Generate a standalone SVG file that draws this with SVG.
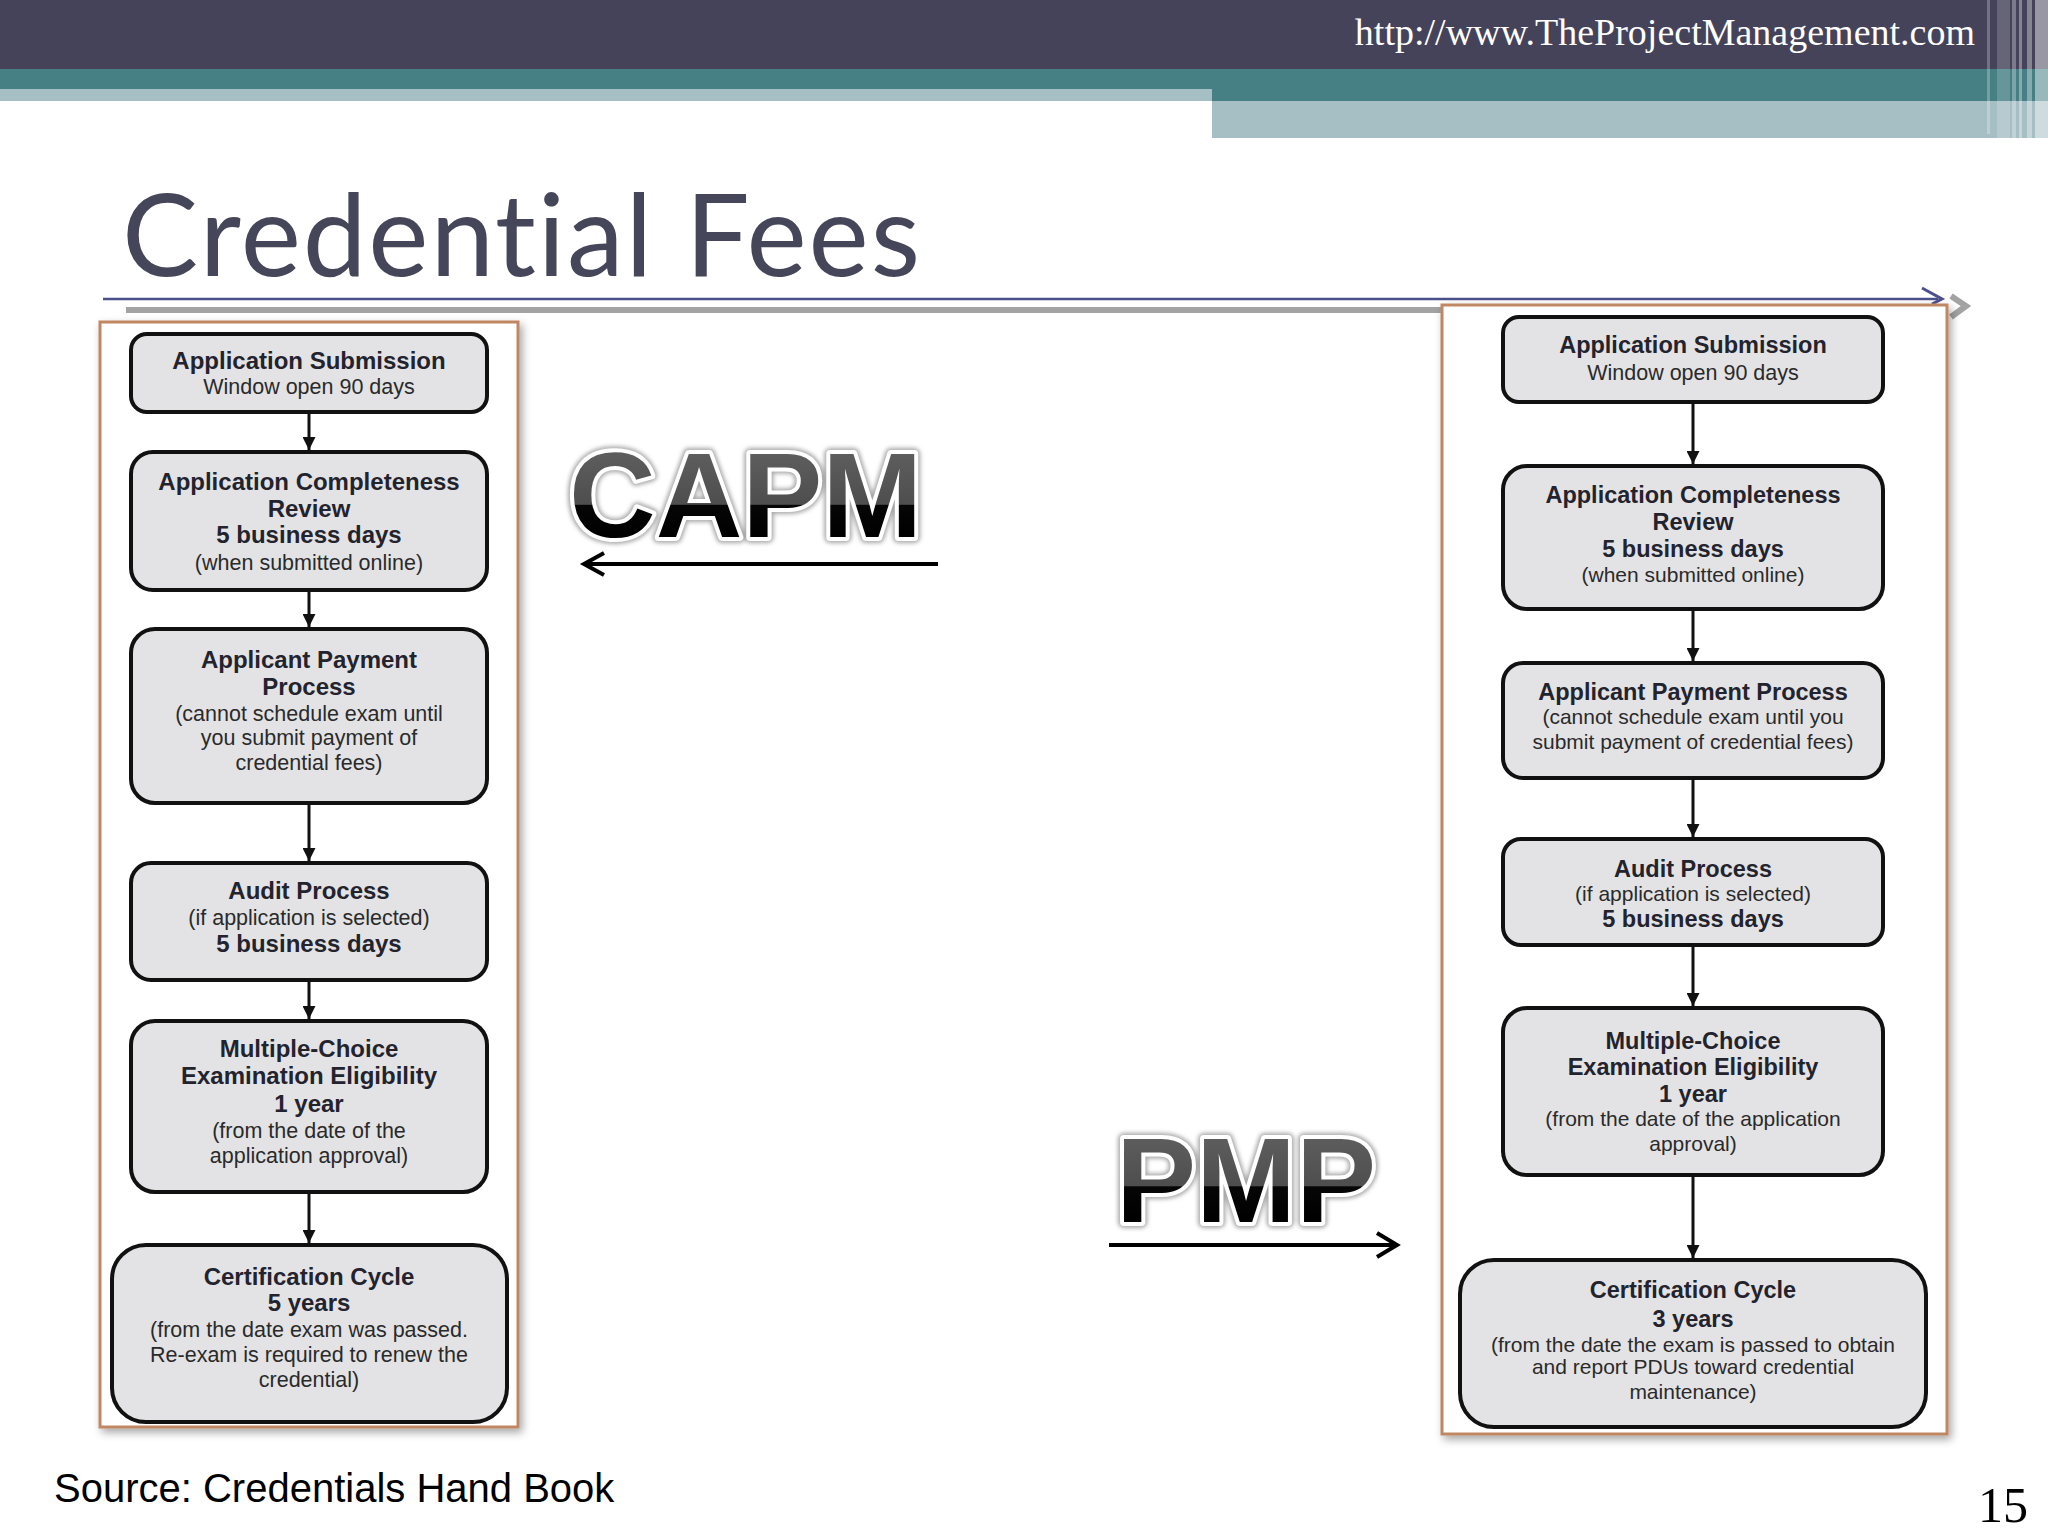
<svg xmlns="http://www.w3.org/2000/svg" width="2048" height="1536" viewBox="0 0 2048 1536">
<defs>
<style>
.b{font-family:"Liberation Sans",Arial,sans-serif;font-weight:bold;font-size:24px;fill:#23232e;text-anchor:middle}
.r{font-family:"Liberation Sans",Arial,sans-serif;font-size:21.5px;fill:#2a2a2a;text-anchor:middle}
.b2{font-family:"Liberation Sans",Arial,sans-serif;font-weight:bold;font-size:23.5px;fill:#23232e;text-anchor:middle}
.r2{font-family:"Liberation Sans",Arial,sans-serif;font-size:21px;fill:#2a2a2a;text-anchor:middle}
.box{fill:#e3e3e5;stroke:#111;stroke-width:4}
.frame{fill:#fff;stroke:#c08763;stroke-width:3}
.conn{stroke:#111;stroke-width:3;fill:none}
.big{font-family:"Liberation Sans",Arial,sans-serif;font-weight:bold;font-size:120px}
.halo{fill:#8a8a8a;stroke:#a8a8a8;stroke-width:12;stroke-linejoin:round}
.glyph{stroke:#fff;stroke-width:8;stroke-linejoin:round;paint-order:stroke}
.arr{stroke:#000;stroke-width:4;fill:none}
</style>
<marker id="ah" viewBox="0 0 12 12" refX="12" refY="6" markerWidth="13" markerHeight="13" markerUnits="userSpaceOnUse" orient="auto">
<path d="M0,0 L12,6 L0,12 z" fill="#111"/>
</marker>
<filter id="shadow" x="-10%" y="-10%" width="120%" height="120%">
<feDropShadow dx="3" dy="4" stdDeviation="4" flood-color="#000" flood-opacity="0.35"/>
</filter>
<filter id="blur" x="-10%" y="-20%" width="120%" height="140%">
<feGaussianBlur stdDeviation="2"/>
</filter>
<linearGradient id="gCapm" gradientUnits="userSpaceOnUse" x1="0" y1="451" x2="0" y2="537">
<stop offset="0" stop-color="#5e5e5e"/>
<stop offset="0.62" stop-color="#4e4e4e"/>
<stop offset="0.63" stop-color="#060606"/>
<stop offset="1" stop-color="#000"/>
</linearGradient>
<linearGradient id="gPmp" gradientUnits="userSpaceOnUse" x1="0" y1="1136" x2="0" y2="1222">
<stop offset="0" stop-color="#5e5e5e"/>
<stop offset="0.58" stop-color="#4e4e4e"/>
<stop offset="0.59" stop-color="#060606"/>
<stop offset="1" stop-color="#000"/>
</linearGradient>
</defs>

<rect width="2048" height="1536" fill="#fff"/>

<g id="header">
<rect x="0" y="0" width="2048" height="69" fill="#45435a"/>
<rect x="0" y="69" width="2048" height="20" fill="#467f84"/>
<rect x="0" y="89" width="1212" height="12" fill="#a6bfc5"/>
<rect x="1212" y="89" width="836" height="12" fill="#467f84"/>
<rect x="1212" y="101" width="836" height="37" fill="#a6bfc5"/>
<rect x="1987" y="0" width="3" height="134" fill="#fff" opacity="0.25"/>
<rect x="1997" y="0" width="13" height="138" fill="#fff" opacity="0.18"/>
<rect x="2012" y="0" width="4" height="138" fill="#fff" opacity="0.3"/>
<rect x="2019" y="0" width="3" height="138" fill="#fff" opacity="0.35"/>
<rect x="2027" y="0" width="5" height="138" fill="#fff" opacity="0.35"/>
<rect x="2035" y="0" width="13" height="138" fill="#fff" opacity="0.45"/>
<text x="1975" y="45" font-family="Liberation Serif,Times New Roman,serif" font-size="38" fill="#fff" text-anchor="end">http://www.TheProjectManagement.com</text>
</g>

<g id="title">
<text x="122" y="276" font-family="Lato,Open Sans,sans-serif" font-size="114" fill="#46465a" style="font-variant-ligatures:none;font-feature-settings:'liga' 0,'clig' 0" textLength="798" lengthAdjust="spacing">Credential Fees</text>
<line x1="103" y1="299" x2="1938" y2="299" stroke="#4b4f8a" stroke-width="2.5"/>
<polyline points="1922,288 1942,299 1932,304" fill="none" stroke="#4b4f8a" stroke-width="3"/>
<rect x="126" y="307" width="1820" height="6" fill="#a3a3a3"/>
<polyline points="1951,296 1966,306 1951,317" fill="none" stroke="#a3a3a3" stroke-width="6"/>
</g>

<g id="frames">
<rect id="capm-frame" class="frame" x="100" y="322" width="418" height="1105" filter="url(#shadow)"/>
<rect id="pmp-frame" class="frame" x="1442" y="305" width="505" height="1129" filter="url(#shadow)"/>
</g>

<g id="connectors">
<line class="conn" x1="309" y1="413" x2="309" y2="450" marker-end="url(#ah)"/>
<line class="conn" x1="309" y1="590" x2="309" y2="627" marker-end="url(#ah)"/>
<line class="conn" x1="309" y1="803" x2="309" y2="861" marker-end="url(#ah)"/>
<line class="conn" x1="309" y1="980" x2="309" y2="1019" marker-end="url(#ah)"/>
<line class="conn" x1="309" y1="1192" x2="309" y2="1243" marker-end="url(#ah)"/>
<line class="conn" x1="1693" y1="402" x2="1693" y2="464" marker-end="url(#ah)"/>
<line class="conn" x1="1693" y1="609" x2="1693" y2="661" marker-end="url(#ah)"/>
<line class="conn" x1="1693" y1="778" x2="1693" y2="837" marker-end="url(#ah)"/>
<line class="conn" x1="1693" y1="945" x2="1693" y2="1006" marker-end="url(#ah)"/>
<line class="conn" x1="1693" y1="1175" x2="1693" y2="1258" marker-end="url(#ah)"/>
</g>

<g id="capm-1">
<rect class="box" x="131" y="334" width="356" height="78" rx="16"/>
<text class="b" x="309" y="369">Application Submission</text>
<text class="r" x="309" y="394">Window open 90 days</text>
</g>
<g id="capm-2">
<rect class="box" x="131" y="452" width="356" height="138" rx="22"/>
<text class="b" x="309" y="490">Application Completeness</text>
<text class="b" x="309" y="517">Review</text>
<text class="b" x="309" y="543">5 business days</text>
<text class="r" x="309" y="570">(when submitted online)</text>
</g>
<g id="capm-3">
<rect class="box" x="131" y="629" width="356" height="174" rx="24"/>
<text class="b" x="309" y="668">Applicant Payment</text>
<text class="b" x="309" y="695">Process</text>
<text class="r" x="309" y="721">(cannot schedule exam until</text>
<text class="r" x="309" y="745">you submit payment of</text>
<text class="r" x="309" y="770">credential fees)</text>
</g>
<g id="capm-4">
<rect class="box" x="131" y="863" width="356" height="117" rx="20"/>
<text class="b" x="309" y="899">Audit Process</text>
<text class="r" x="309" y="925">(if application is selected)</text>
<text class="b" x="309" y="952">5 business days</text>
</g>
<g id="capm-5">
<rect class="box" x="131" y="1021" width="356" height="171" rx="24"/>
<text class="b" x="309" y="1057">Multiple-Choice</text>
<text class="b" x="309" y="1084">Examination Eligibility</text>
<text class="b" x="309" y="1112">1 year</text>
<text class="r" x="309" y="1138">(from the date of the</text>
<text class="r" x="309" y="1163">application approval)</text>
</g>
<g id="capm-6">
<rect class="box" x="112" y="1245" width="395" height="177" rx="34"/>
<text class="b" x="309" y="1285">Certification Cycle</text>
<text class="b" x="309" y="1311">5 years</text>
<text class="r" x="309" y="1337">(from the date exam was passed.</text>
<text class="r" x="309" y="1362">Re-exam is required to renew the</text>
<text class="r" x="309" y="1387">credential)</text>
</g>

<g id="pmp-1">
<rect class="box" x="1503" y="317" width="380" height="85" rx="16"/>
<text class="b2" x="1693" y="353">Application Submission</text>
<text class="r" x="1693" y="380">Window open 90 days</text>
</g>
<g id="pmp-2">
<rect class="box" x="1503" y="466" width="380" height="143" rx="24"/>
<text class="b2" x="1693" y="503">Application Completeness</text>
<text class="b2" x="1693" y="530">Review</text>
<text class="b2" x="1693" y="557">5 business days</text>
<text class="r2" x="1693" y="582">(when submitted online)</text>
</g>
<g id="pmp-3">
<rect class="box" x="1503" y="663" width="380" height="115" rx="20"/>
<text class="b2" x="1693" y="700">Applicant Payment Process</text>
<text class="r2" x="1693" y="724">(cannot schedule exam until you</text>
<text class="r2" x="1693" y="749">submit payment of credential fees)</text>
</g>
<g id="pmp-4">
<rect class="box" x="1503" y="839" width="380" height="106" rx="18"/>
<text class="b2" x="1693" y="877">Audit Process</text>
<text class="r2" x="1693" y="901">(if application is selected)</text>
<text class="b2" x="1693" y="927">5 business days</text>
</g>
<g id="pmp-5">
<rect class="box" x="1503" y="1008" width="380" height="167" rx="24"/>
<text class="b2" x="1693" y="1049">Multiple-Choice</text>
<text class="b2" x="1693" y="1075">Examination Eligibility</text>
<text class="b2" x="1693" y="1102">1 year</text>
<text class="r2" x="1693" y="1126">(from the date of the application</text>
<text class="r2" x="1693" y="1151">approval)</text>
</g>
<g id="pmp-6">
<rect class="box" x="1460" y="1260" width="466" height="167" rx="34"/>
<text class="b2" x="1693" y="1298">Certification Cycle</text>
<text class="b2" x="1693" y="1327">3 years</text>
<text class="r2" x="1693" y="1352">(from the date the exam is passed to obtain</text>
<text class="r2" x="1693" y="1374">and report PDUs toward credential</text>
<text class="r2" x="1693" y="1399">maintenance)</text>
</g>

<g id="capm-label">
<text class="big halo" x="569" y="537" filter="url(#blur)">CAPM</text>
<text class="big glyph" x="569" y="537" fill="url(#gCapm)">CAPM</text>
<line class="arr" x1="586" y1="564" x2="938" y2="564"/>
<polyline class="arr" points="604,553 584,564 604,575"/>
</g>

<g id="pmp-label">
<text class="big halo" x="1116" y="1222" filter="url(#blur)">PMP</text>
<text class="big glyph" x="1116" y="1222" fill="url(#gPmp)">PMP</text>
<line class="arr" x1="1109" y1="1245" x2="1394" y2="1245"/>
<polyline class="arr" points="1377,1233 1397,1245 1377,1257"/>
</g>

<g id="footer">
<text x="54" y="1502" font-family="Liberation Sans,Arial,sans-serif" font-size="40" fill="#000">Source: Credentials Hand Book</text>
<text x="2028" y="1522" font-family="Liberation Serif,Times New Roman,serif" font-size="50" fill="#000" text-anchor="end">15</text>
</g>
</svg>
